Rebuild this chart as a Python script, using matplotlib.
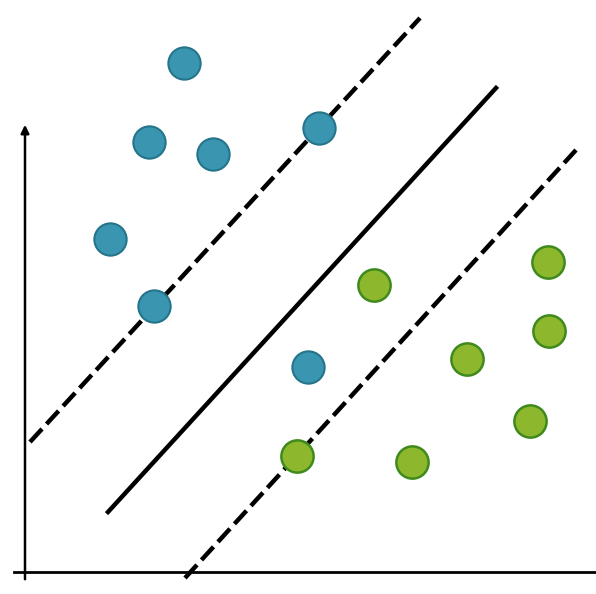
import matplotlib.pyplot as plt

# point positions in picture units (x right, y down)
blue_x = [184, 149, 213, 319, 110, 154, 308]
blue_y = [63, 142, 154, 128, 239, 306, 367]
green_x = [374, 548, 549, 467, 530, 297, 412]
green_y = [285, 262, 331, 359, 421, 456, 462]

# separating line and margins (endpoints)
solid_x = [108, 496]
solid_y = [512, 88]
upper_x = [30, 420]
upper_y = [442, 18]
lower_x = [185, 576]
lower_y = [578, 150]

fig = plt.figure(figsize=(5.96, 5.94), dpi=100)
ax = fig.add_axes([0, 0, 1, 1])
ax.set_xlim(0, 596)
ax.set_ylim(594, 0)
ax.axis("off")

ax.plot(solid_x, solid_y, color="black", lw=3.2)
ax.plot(upper_x, upper_y, color="black", lw=3.2, ls=(0, (4, 1.5)))
ax.plot(lower_x, lower_y, color="black", lw=3.2, ls=(0, (4, 1.5)))

ax.scatter(blue_x, blue_y, s=540, c="#3a95b0", edgecolors="#25748a", linewidths=1.5, zorder=3)
ax.scatter(green_x, green_y, s=540, c="#8db82e", edgecolors="#3f8a1c", linewidths=1.8, zorder=3)

# axes arrows
ax.annotate("", xy=(25, 122), xytext=(25, 582),
            arrowprops=dict(arrowstyle="-|>", color="black", lw=1.8, mutation_scale=12))
ax.plot([14, 596], [572, 572], color="black", lw=2)

fig.savefig("out.png", dpi=100)
